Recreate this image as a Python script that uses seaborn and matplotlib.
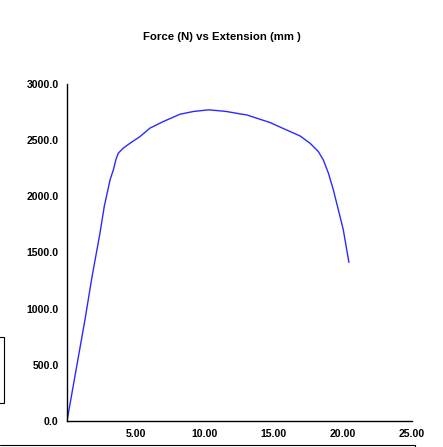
import numpy as np
import pandas as pd
import seaborn as sns
import matplotlib
matplotlib.use("Agg")
import matplotlib.pyplot as plt
from matplotlib.lines import Line2D
from matplotlib.patches import Rectangle

# Data
extension = [0.0, 0.65, 1.30, 1.79, 2.39, 2.70, 3.12, 3.36, 3.55, 3.72, 4.08, 4.57, 5.29, 6.01,
             6.98, 8.19, 9.15, 10.24, 11.09, 11.57, 12.54, 13.02, 14.71, 16.16, 16.88,
             17.61, 18.21, 18.57, 18.94, 19.30, 19.66, 20.02, 20.43]
force = [0, 450, 900, 1267, 1673, 1910, 2147, 2236, 2330, 2385, 2429, 2473, 2532, 2607,
         2666, 2731, 2755, 2770, 2761, 2755, 2734, 2725, 2657, 2577, 2538,
         2473, 2399, 2325, 2207, 2058, 1881, 1703, 1412]

x_ticks = [0, 5, 10, 15, 20, 25]
x_labels = ["", "5.00", "10.00", "15.00", "20.00", "25.00"]
y_ticks = [0, 500, 1000, 1500, 2000, 2500, 3000]
y_labels = ["0.0", "500.0", "1000.0", "1500.0", "2000.0", "2500.0", "3000.0"]

df = pd.DataFrame({"Extension (mm)": extension, "Force (N)": force})

sns.set_style("white")
plt.rcParams["font.family"] = ["Liberation Sans", "DejaVu Sans"]
plt.rcParams["text.color"] = "black"

W, H = 443, 447
fig = plt.figure(figsize=(W / 100, H / 100), dpi=100)
ax = fig.add_axes([67 / W, 1 - 421 / H, (412 - 67) / W, (421 - 84) / H])

sns.lineplot(data=df, x="Extension (mm)", y="Force (N)", ax=ax, color="#2a2aff",
             linewidth=1.0, sort=False)

ax.set_xlim(0, 25)
ax.set_ylim(0, 3000)
ax.set_xticks(x_ticks)
ax.set_xticklabels(x_labels, fontsize=7.6, fontweight="bold")
ax.set_yticks(y_ticks)
ax.set_yticklabels(y_labels, fontsize=7.6, fontweight="bold")
ax.set_xlabel("")
ax.set_ylabel("")
ax.tick_params(axis="both", direction="out", length=3, width=0.8, pad=3, colors="black")
ax.tick_params(axis="x", color="#808080")
for s in ["top", "right"]:
    ax.spines[s].set_visible(False)
for s in ["left", "bottom"]:
    ax.spines[s].set_color("black")
    ax.spines[s].set_linewidth(1.0)

fig.text(0.5, 1 - 37 / H, "Force (N) vs Extension (mm )", ha="center", va="center",
         fontsize=8.2, fontweight="bold", color="black")

# spreadsheet frame remnants
fig.patches.append(Rectangle((-5 / W, 1 - 403 / H), 8.5 / W, 66 / H, transform=fig.transFigure,
                             fill=False, edgecolor="black", linewidth=0.8))
fig.lines.append(Line2D([0, 415 / W], [1 - 444.5 / H] * 2, transform=fig.transFigure,
                        color="black", linewidth=0.8))
fig.lines.append(Line2D([415 / W] * 2, [1 - 444.5 / H, 0], transform=fig.transFigure,
                        color="black", linewidth=0.8))

fig.savefig("out.png", dpi=100)
